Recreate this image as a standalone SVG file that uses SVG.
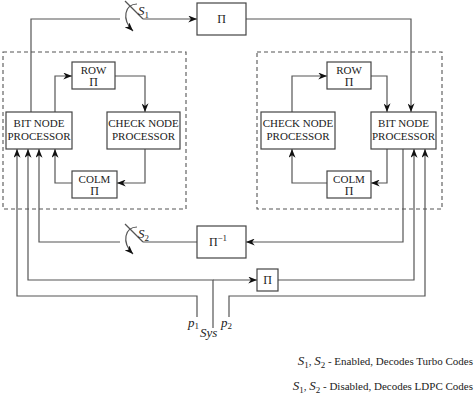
<svg xmlns="http://www.w3.org/2000/svg" width="474" height="414" viewBox="0 0 474 414">
<style>
.box{fill:#fff;stroke:#444;stroke-width:1.2}
.dash{fill:none;stroke:#555;stroke-width:1.1;stroke-dasharray:4,3}
.ln{fill:none;stroke:#555;stroke-width:1.2}
text{font-family:"Liberation Serif","Times New Roman",Times,serif;fill:#222}
.t{font-size:11px;text-anchor:middle}
.pi{font-size:12px;text-anchor:middle}
.m{font-style:italic;font-size:13px}
.s{font-size:9px;font-style:normal}
.note{font-size:11px}
</style>
<defs>
<marker id="a" viewBox="0 0 10 8" refX="10" refY="4" markerWidth="9" markerHeight="7" markerUnits="userSpaceOnUse" orient="auto">
<path d="M0,0 L10,4 L0,8 L3,4 z" fill="#111"/>
</marker>
</defs>
<rect width="474" height="414" fill="#fff"/>
<rect class="dash" x="3" y="52" width="183" height="157"/>
<rect class="dash" x="257" y="52" width="185" height="157"/>
<g id="connectors">
<path class="ln" d="M55,112 V76 H72" marker-end="url(#a)"/>
<path class="ln" d="M115,76 H145 V112" marker-end="url(#a)"/>
<path class="ln" d="M145,149 V183 H117" marker-end="url(#a)"/>
<path class="ln" d="M72,183 H55 V149" marker-end="url(#a)"/>
<path class="ln" d="M31,112 V19 H120"/>
<path class="ln" d="M143,19 H197" marker-end="url(#a)"/>
<path class="ln" d="M246,19 H411 V112" marker-end="url(#a)"/>
<path class="ln" d="M292,112 V76 H327" marker-end="url(#a)"/>
<path class="ln" d="M371,76 H387 V112" marker-end="url(#a)"/>
<path class="ln" d="M387,149 V183 H371" marker-end="url(#a)"/>
<path class="ln" d="M327,183 H292 V149" marker-end="url(#a)"/>
<path class="ln" d="M403,149 V242 H246" marker-end="url(#a)"/>
<path class="ln" d="M197,242 H143"/>
<path class="ln" d="M120,242 H39 V149" marker-end="url(#a)"/>
<path class="ln" d="M213,328 V280 H28 V149" marker-end="url(#a)"/>
<path class="ln" d="M213,280 H257" marker-end="url(#a)"/>
<path class="ln" d="M278,280 H414 V149" marker-end="url(#a)"/>
<path class="ln" d="M197,317 V296 H17 V149" marker-end="url(#a)"/>
<path class="ln" d="M229,317 V296 H425 V149" marker-end="url(#a)"/>
<path class="ln" d="M125,1 L143,19"/>
<path class="ln" d="M137,4 C125,4 121,19 133,31" marker-end="url(#a)"/>
<path class="ln" d="M125,224 L143,242"/>
<path class="ln" d="M137,227 C125,227 121,242 133,254" marker-end="url(#a)"/>
</g>
<g id="pi_top"><rect class="box" x="197" y="3" width="49" height="32"/><text class="pi" x="221.5" y="23">Π</text></g>
<g id="pi_inv"><rect class="box" x="197" y="226" width="49" height="32"/><text class="pi" x="218" y="246">Π<tspan font-size="9" dy="-5">−1</tspan></text></g>
<g id="pi_small"><rect class="box" x="257" y="269" width="21" height="22"/><text class="pi" x="267.5" y="284">Π</text></g>
<g id="bnp_left"><rect class="box" x="6" y="112" width="66" height="37"/><text class="t" x="39" y="127">BIT NODE</text><text class="t" x="39" y="140">PROCESSOR</text></g>
<g id="cnp_left"><rect class="box" x="107" y="112" width="73" height="37"/><text class="t" x="143.5" y="127">CHECK NODE</text><text class="t" x="143.5" y="140">PROCESSOR</text></g>
<g id="row_left"><rect class="box" x="72" y="62" width="43" height="27"/><text class="t" x="93.5" y="74">ROW</text><text class="pi" x="93.5" y="86">Π</text></g>
<g id="colm_left"><rect class="box" x="72" y="171" width="45" height="27"/><text class="t" x="94.5" y="183">COLM</text><text class="pi" x="94.5" y="195">Π</text></g>
<g id="cnp_right"><rect class="box" x="261" y="112" width="74" height="37"/><text class="t" x="298" y="127">CHECK NODE</text><text class="t" x="298" y="140">PROCESSOR</text></g>
<g id="bnp_right"><rect class="box" x="371" y="112" width="65" height="37"/><text class="t" x="403.5" y="127">BIT NODE</text><text class="t" x="403.5" y="140">PROCESSOR</text></g>
<g id="row_right"><rect class="box" x="327" y="62" width="44" height="27"/><text class="t" x="349" y="74">ROW</text><text class="pi" x="349" y="86">Π</text></g>
<g id="colm_right"><rect class="box" x="327" y="171" width="44" height="27"/><text class="t" x="349" y="183">COLM</text><text class="pi" x="349" y="195">Π</text></g>
<g id="labels">
<text class="m" x="138" y="15">S<tspan class="s" dy="3">1</tspan></text>
<text class="m" x="138" y="238">S<tspan class="s" dy="3">2</tspan></text>
<text class="m" x="188" y="327">p<tspan class="s" dy="2">1</tspan></text>
<text class="m" x="200" y="337">Sys</text>
<text class="m" x="221" y="327">p<tspan class="s" dy="2">2</tspan></text>
<text class="note" x="473" y="365" text-anchor="end"><tspan class="m">S</tspan><tspan class="s" dy="3">1</tspan><tspan dy="-3">, </tspan><tspan class="m">S</tspan><tspan class="s" dy="3">2</tspan><tspan dy="-3"> - Enabled, Decodes Turbo Codes</tspan></text>
<text class="note" x="473" y="390" text-anchor="end"><tspan class="m">S</tspan><tspan class="s" dy="3">1</tspan><tspan dy="-3">, </tspan><tspan class="m">S</tspan><tspan class="s" dy="3">2</tspan><tspan dy="-3"> - Disabled, Decodes LDPC Codes</tspan></text>
</g>
</svg>
